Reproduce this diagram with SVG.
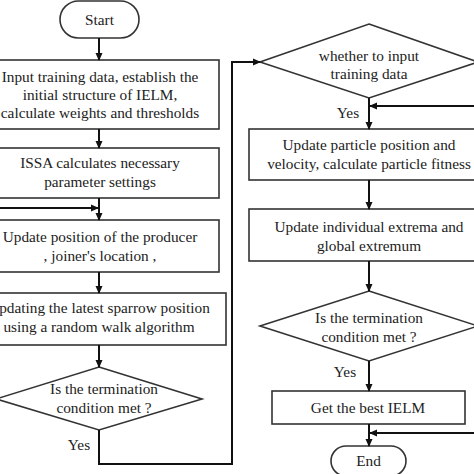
<svg xmlns="http://www.w3.org/2000/svg" width="474" height="474" viewBox="0 0 474 474">
<defs>
<marker id="arr" markerWidth="8" markerHeight="8" refX="7" refY="4" orient="auto" markerUnits="userSpaceOnUse">
<path d="M0,0.5 L8,4 L0,7.5 Z" fill="#111"/>
</marker>
<style>
.box{fill:#fff;stroke:#333;stroke-width:1.6}
.t{font-family:"Liberation Serif","Times New Roman",serif;font-size:15.3px;fill:#222;text-anchor:middle}
.c{fill:none;stroke:#111;stroke-width:2}
</style>
</defs>
<rect width="474" height="474" fill="#fff"/>
<g id="start">
<rect class="box" x="60" y="1" width="79" height="37" rx="18.5"/>
<text class="t" x="99.5" y="25">Start</text>
</g>
<g id="box1">
<rect class="box" x="-20" y="60" width="239" height="69"/>
<text class="t" x="100" y="82">Input training data, establish the</text>
<text class="t" x="100" y="100">initial structure of IELM,</text>
<text class="t" x="100" y="118">calculate weights and thresholds</text>
</g>
<g id="box2">
<rect class="box" x="-20" y="148" width="239" height="50"/>
<text class="t" x="100" y="168">ISSA calculates necessary</text>
<text class="t" x="100" y="187">parameter settings</text>
</g>
<g id="box3">
<rect class="box" x="-20" y="220" width="239" height="52"/>
<text class="t" x="100" y="242">Update position of the producer</text>
<text class="t" x="100" y="261">, joiner's location ,</text>
</g>
<g id="box4">
<rect class="box" x="-28" y="293" width="254" height="52"/>
<text class="t" x="99" y="313">Updating the latest sparrow position</text>
<text class="t" x="99" y="332">using a random walk algorithm</text>
</g>
<g id="dec1">
<polygon class="box" points="99,367 202,399 99,430 -4,399"/>
<text class="t" x="104" y="394">Is the termination</text>
<text class="t" x="104" y="413">condition met ?</text>
</g>
<g id="dec2">
<polygon class="box" points="369,24 478,62 369,98 260,62"/>
<text class="t" x="369" y="61">whether to input</text>
<text class="t" x="369" y="79">training data</text>
</g>
<g id="box5">
<rect class="box" x="249" y="129" width="240" height="51"/>
<text class="t" x="369" y="150">Update particle position and</text>
<text class="t" x="369" y="169">velocity, calculate particle fitness</text>
</g>
<g id="box6">
<rect class="box" x="249" y="209" width="240" height="52"/>
<text class="t" x="369" y="232">Update individual extrema and</text>
<text class="t" x="369" y="251">global extremum</text>
</g>
<g id="dec3">
<polygon class="box" points="369,291 478,326 369,361 260,326"/>
<text class="t" x="369" y="323">Is the termination</text>
<text class="t" x="369" y="342">condition met ?</text>
</g>
<g id="box7">
<rect class="box" x="272" y="391" width="193" height="33"/>
<text class="t" x="368" y="413">Get the best IELM</text>
</g>
<g id="end">
<rect class="box" x="331" y="446" width="75" height="30" rx="15"/>
<text class="t" x="368.5" y="466">End</text>
</g>
<g id="connectors">
<line class="c" x1="99" y1="38" x2="99" y2="60" marker-end="url(#arr)"/>
<line class="c" x1="99" y1="129" x2="99" y2="148" marker-end="url(#arr)"/>
<line class="c" x1="99" y1="198" x2="99" y2="220" marker-end="url(#arr)"/>
<line class="c" x1="0" y1="208" x2="98" y2="208" marker-end="url(#arr)"/>
<line class="c" x1="99" y1="272" x2="99" y2="293" marker-end="url(#arr)"/>
<line class="c" x1="99" y1="345" x2="99" y2="367" marker-end="url(#arr)"/>
<polyline class="c" points="99,430 99,464 232,464 232,62 260,62" marker-end="url(#arr)"/>
<line class="c" x1="369" y1="98" x2="369" y2="129" marker-end="url(#arr)"/>
<line class="c" x1="474" y1="106" x2="370" y2="106" marker-end="url(#arr)"/>
<line class="c" x1="369" y1="180" x2="369" y2="209" marker-end="url(#arr)"/>
<line class="c" x1="369" y1="261" x2="369" y2="291" marker-end="url(#arr)"/>
<line class="c" x1="369" y1="361" x2="369" y2="391" marker-end="url(#arr)"/>
<line class="c" x1="369" y1="424" x2="369" y2="446" marker-end="url(#arr)"/>
<line class="c" x1="474" y1="433" x2="370" y2="433" marker-end="url(#arr)"/>
<text class="t" x="79" y="450">Yes</text>
<text class="t" x="348" y="118">Yes</text>
<text class="t" x="345" y="377">Yes</text>
</g>
</svg>
